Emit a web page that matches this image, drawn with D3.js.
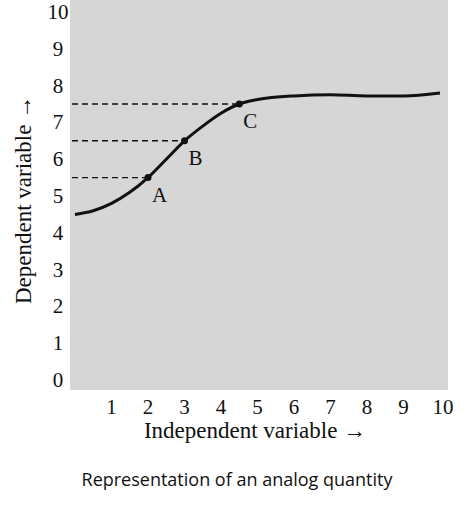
<!DOCTYPE html>
<html><head><meta charset="utf-8">
<script src="https://cdn.jsdelivr.net/npm/d3@7"></script>
<style>body{margin:0;background:#fff}</style>
</head><body>
<script>
// data
const curveX = [0, 0.5, 1, 1.5, 2, 2.5, 3, 3.5, 4, 4.5, 5, 6, 7, 8, 9, 10];
const curveY = [4.5, 4.6, 4.8, 5.1, 5.5, 6.0, 6.5, 6.9, 7.25, 7.5, 7.62, 7.72, 7.75, 7.72, 7.72, 7.8];
const pointNames = ["A", "B", "C"];
const pointX = [2, 3, 4.5];
const pointY = [5.5, 6.5, 7.5];
const xTicks = [1, 2, 3, 4, 5, 6, 7, 8, 9, 10];
const yTicks = [0, 1, 2, 3, 4, 5, 6, 7, 8, 9, 10];

const W = 474, H = 507;
const svg = d3.select("body").append("svg").attr("width", W).attr("height", H);

const x = d3.scaleLinear().domain([0, 10]).range([75, 440]);
const y = d3.scaleLinear().domain([0, 10]).range([380, 12]);

svg.append("rect").attr("x", 70).attr("y", 0).attr("width", 378).attr("height", 390)
    .attr("fill", "#d6d6d6");

const serif = "Liberation Serif, DejaVu Serif, serif";

svg.selectAll(".yt").data(yTicks).join("text")
    .attr("x", 58).attr("y", d => y(d) + 7)
    .attr("text-anchor", "middle")
    .attr("font-family", serif).attr("font-size", 21).attr("fill", "#111")
    .text(d => d);

svg.selectAll(".xt").data(xTicks).join("text")
    .attr("x", d => x(d) + (d == 10 ? 3 : 0)).attr("y", 414)
    .attr("text-anchor", "middle")
    .attr("font-family", serif).attr("font-size", 21).attr("fill", "#111")
    .text(d => d);

svg.append("text").attr("x", 255).attr("y", 438).attr("text-anchor", "middle")
    .attr("font-family", serif).attr("font-size", 23).attr("fill", "#111")
    .text("Independent variable \u2192");

svg.append("text").attr("transform", "translate(31,200) rotate(-90)")
    .attr("text-anchor", "middle")
    .attr("font-family", serif).attr("font-size", 23).attr("fill", "#111")
    .text("Dependent variable \u2192");

const pts = pointX.map((d, i) => ({x: d, y: pointY[i], n: pointNames[i]}));

svg.selectAll(".dash").data(pts).join("line")
    .attr("x1", x(0) - 3).attr("x2", d => x(d.x))
    .attr("y1", d => y(d.y)).attr("y2", d => y(d.y))
    .attr("stroke", "#111").attr("stroke-width", 1.4).attr("stroke-dasharray", "6,4");

const line = d3.line().x(d => x(d[0])).y(d => y(d[1])).curve(d3.curveMonotoneX);
svg.append("path").datum(curveX.map((d, i) => [d, curveY[i]]))
    .attr("d", line).attr("fill", "none").attr("stroke", "#111").attr("stroke-width", 3);

svg.selectAll(".pt").data(pts).join("circle")
    .attr("cx", d => x(d.x)).attr("cy", d => y(d.y)).attr("r", 3.5).attr("fill", "#111");

svg.selectAll(".lab").data(pts).join("text")
    .attr("x", d => x(d.x) + 4).attr("y", d => y(d.y) + 24)
    .attr("font-family", serif).attr("font-size", 21).attr("fill", "#111")
    .text(d => d.n);

svg.append("text").attr("x", 237).attr("y", 486).attr("text-anchor", "middle")
    .attr("font-family", "Open Sans, sans-serif").attr("font-size", 18).attr("fill", "#111")
    .text("Representation of an analog quantity");
</script>
</body></html>
